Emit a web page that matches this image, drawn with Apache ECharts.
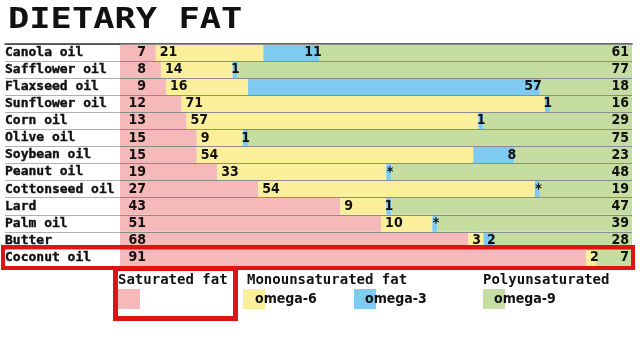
<!DOCTYPE html>
<html><head><meta charset="utf-8">
<script src="https://cdn.jsdelivr.net/npm/echarts@6/dist/echarts.min.js"></script>
<style>html,body{margin:0;padding:0;background:#fff}#c{width:640px;height:360px}</style>
</head><body><div id="c"></div>
<script>
const names = ['Canola oil','Safflower oil','Flaxseed oil','Sunflower oil','Corn oil','Olive oil','Soybean oil','Peanut oil','Cottonseed oil','Lard','Palm oil','Butter','Coconut oil'];
const saturated = [7,8,9,12,13,15,15,19,27,43,51,68,91];
const omega6 = [21,14,16,71,57,9,54,33,54,9,10,3,2];
const omega3 = [11,1,57,1,1,1,8,1,1,1,1,2,0];
const omega3Text = ['11','1','57','1','1','1','8','*','*','1','*','2',''];
const omega9 = [61,77,18,16,29,75,23,48,19,47,39,28,7];

const C = {sat:'#f6b9ba', o6:'#fbef9c', o3:'#7fcbef', o9:'#c5dda1', red:'#dc1414'};
const numFont = {fontFamily:"'DejaVu Sans Condensed','DejaVu Sans',sans-serif", fontWeight:'bold', fontSize:14, color:'#111'};
const mono = "'DejaVu Sans Mono',monospace";

const chart = echarts.init(document.getElementById('c'), null, {renderer:'canvas'});
const gridTop = 44, gridH = 222;
const baseLbl = Object.assign({show:true, verticalAlign:'middle'}, numFont);
function legendAt(name, left, shift, fmt){
  return {
    data:[name], left:left, top:289, itemWidth:22, itemHeight:20, icon:'rect',
    selectedMode:false, padding:0,
    formatter: fmt ? fmt : undefined,
    textStyle: Object.assign({}, numFont, {fontSize:14, padding:[0,0,0,shift]})
  };
}
chart.setOption({
  animation:false,
  grid:[
    {left:5, width:115, top:gridTop, height:gridH},
    {left:120, right:8, top:gridTop, height:gridH}
  ],
  xAxis:[
    {gridIndex:0, type:'value', min:0, max:1, position:'top',
     axisLine:{show:true, onZero:false, lineStyle:{color:'#333', width:1.5}},
     axisTick:{show:false}, axisLabel:{show:false}, splitLine:{show:false}},
    {gridIndex:1, type:'value', min:0, max:100, position:'top',
     axisLine:{show:true, onZero:false, lineStyle:{color:'#333', width:1.5}},
     axisTick:{show:false}, axisLabel:{show:false}, splitLine:{show:false}}
  ],
  yAxis:[
    {gridIndex:0, type:'category', data:names, inverse:true,
     axisLine:{show:false}, axisTick:{show:false}, axisLabel:{show:false},
     splitLine:{show:true, lineStyle:{color:'#b0b0b0', width:1}}},
    {gridIndex:1, type:'category', data:names, inverse:true, z:5,
     axisLine:{show:false}, axisTick:{show:false},
     axisLabel:{show:true, align:'left', margin:115, fontFamily:mono, fontWeight:'bold', fontSize:13, color:'#111',
       textBorderColor:'#111', textBorderWidth:0.4},
     splitLine:{show:true, lineStyle:{color:'#8c8c8c', width:1}}}
  ],
  legend:[
    legendAt('Saturated fat', 118, 0, () => ''),
    legendAt('omega-6', 243, -15),
    legendAt('omega-3', 354, -16),
    legendAt('omega-9', 483, -16)
  ],
  series:[
    {name:'Saturated fat', type:'bar', stack:'fat', xAxisIndex:1, yAxisIndex:1, barCategoryGap:'0%',
     data:saturated, itemStyle:{color:C.sat},
     label:Object.assign({}, baseLbl, {position:[26,'50%'], align:'right'})},
    {name:'omega-6', type:'bar', stack:'fat', xAxisIndex:1, yAxisIndex:1, barCategoryGap:'0%',
     data:omega6, itemStyle:{color:C.o6},
     label:Object.assign({}, baseLbl, {position:'insideLeft', distance:4})},
    {name:'omega-3', type:'bar', stack:'fat', xAxisIndex:1, yAxisIndex:1, barCategoryGap:'0%',
     data:omega3, itemStyle:{color:C.o3},
     label:Object.assign({}, baseLbl, {position:['100%','50%'], align:'right', offset:[2,0],
       formatter:(p) => omega3Text[p.dataIndex]})},
    {name:'omega-9', type:'bar', stack:'fat', xAxisIndex:1, yAxisIndex:1, barCategoryGap:'0%',
     data:omega9, itemStyle:{color:C.o9},
     label:Object.assign({}, baseLbl, {position:['100%','50%'], align:'right', offset:[-3,0]})}
  ],
  graphic:[
    {type:'text', x:8, y:20, scaleX:1.22, z:10,
     style:{text:'DIETARY FAT', font:"bold 29px 'DejaVu Sans Mono',monospace", fill:'#111', verticalAlign:'middle', align:'left'}},
    {type:'text', x:118, y:280, z:10,
     style:{text:'Saturated fat', font:"bold 14px 'DejaVu Sans Mono',monospace", fill:'#111', verticalAlign:'middle'}},
    {type:'text', x:247, y:280, z:10,
     style:{text:'Monounsaturated fat', font:"bold 14px 'DejaVu Sans Mono',monospace", fill:'#111', verticalAlign:'middle'}},
    {type:'text', x:483, y:280, z:10,
     style:{text:'Polyunsaturated', font:"bold 14px 'DejaVu Sans Mono',monospace", fill:'#111', verticalAlign:'middle'}},
    {type:'rect', z:20, shape:{x:3, y:247, width:630, height:21},
     style:{fill:'none', stroke:C.red, lineWidth:4}},
    {type:'rect', z:20, shape:{x:115.5, y:268.5, width:120, height:50},
     style:{fill:'none', stroke:C.red, lineWidth:5}}
  ]
});
</script></body></html>
